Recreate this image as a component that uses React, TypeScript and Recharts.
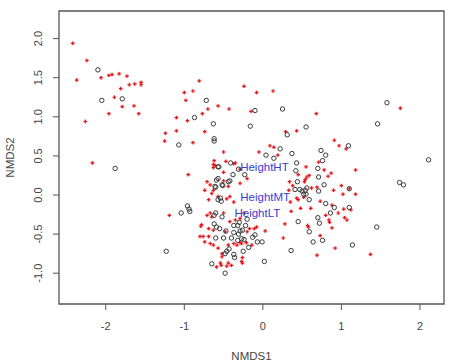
import { ScatterChart, Scatter, XAxis, YAxis, ReferenceArea } from 'recharts';

// NMDS site scores
const blackSites = [
  [-2.10, 1.60], [-2.05, 1.21], [-1.79, 1.23], [-1.88, 0.34], [-1.07, 0.64], [-0.87, 0.99],
  [-0.72, 1.21], [-0.63, 0.91], [-0.62, 0.72], [-0.62, 0.69], [-0.56, 0.36], [-0.41, 0.41],
  [-0.38, 0.26], [-0.10, 1.08], [-0.16, 0.88], [0.25, 1.10], [0.55, 0.87], [1.58, 1.18],
  [1.46, 0.91], [2.11, 0.45], [0.31, 0.77], [1.09, 0.63], [0.74, 0.57], [0.80, 0.51],
  [0.76, 0.44], [0.22, 0.59], [0.37, 0.53], [0.04, 0.51], [0.14, 0.47], [0.43, 0.41],
  [0.70, 0.34], [0.42, 0.31], [0.71, 0.23], [0.44, 0.17], [0.78, 0.13], [1.10, 0.08],
  [0.41, 0.07], [0.47, 0.07], [0.50, 0.05], [0.54, 0.06], [0.56, 0.09], [0.52, 0.01],
  [0.55, 0.01], [0.71, 0.05], [1.74, 0.16], [1.79, 0.13], [1.45, -0.41], [1.14, -0.64],
  [0.76, -0.58], [0.64, -0.60], [0.36, -0.71], [0.02, -0.85], [0.45, -0.34], [0.59, -0.47],
  [0.70, -0.29], [0.72, -0.36], [1.10, -0.16], [0.86, -0.23], [0.91, -0.16], [0.80, -0.11],
  [0.59, -0.06], [-0.01, -0.60], [-0.07, -0.60], [-0.18, -0.67], [-0.25, -0.72], [-0.10, -0.51],
  [-0.13, -0.54], [-0.24, -0.57], [-0.29, -0.46], [-0.26, -0.45], [-0.30, -0.35], [-0.22, -0.39],
  [-0.20, -0.31], [-0.53, -0.08], [-0.57, -0.06], [-0.60, -0.23], [-0.62, -0.26], [-0.52, -0.28],
  [-0.62, -0.37], [-0.59, -0.41], [-0.55, -0.43], [-0.47, -0.46], [-0.37, -0.39], [-0.32, -0.39],
  [-0.43, -0.69], [-0.46, -0.72], [-0.48, -0.75], [-0.37, -0.76], [-0.36, -0.80], [-0.65, -0.88],
  [-0.48, -1.00], [-0.40, -0.55], [-0.32, -0.58], [-0.27, -0.56], [-0.50, -0.55], [-0.60, -0.55],
  [-0.37, -0.48], [-0.31, -0.50], [-1.04, -0.23], [-0.96, -0.14], [-0.94, -0.18], [-0.93, -0.21],
  [-1.23, -0.72], [-0.61, 0.11], [-0.52, 0.13], [-0.44, 0.17], [-0.57, 0.21], [-0.57, 0.36],
  [-0.31, 0.33], [-0.23, 0.26], [-0.59, 0.19], [-0.42, 0.18], [-0.60, 0.10], [-0.51, 0.12],
  [-0.54, -0.04],
];

const redSites = [
  [-2.42, 1.94], [-2.37, 1.47], [-2.24, 1.72], [-2.26, 0.94], [-2.06, 1.50], [-1.96, 1.53],
  [-1.92, 1.54], [-1.83, 1.55], [-1.73, 1.52], [-1.81, 1.36], [-1.70, 1.41], [-1.63, 1.42],
  [-1.55, 1.44], [-1.55, 1.41], [-1.89, 1.25], [-1.79, 1.13], [-1.64, 1.14], [-1.96, 1.04],
  [-1.58, 1.04], [-2.17, 0.41], [-1.24, 0.79], [-1.25, 0.69], [-1.10, 0.82], [-1.10, 0.99],
  [-1.00, 1.31], [-0.89, 1.33], [-0.98, 1.21], [-0.81, 1.46], [-0.96, 0.95], [-0.89, 0.67],
  [-0.77, 1.04], [-0.70, 1.10], [-0.57, 1.14], [-0.74, 0.81], [-0.43, 1.10], [-0.50, 0.55],
  [-0.63, 0.39], [-0.63, 0.35], [-0.47, 0.43], [-0.37, 0.40], [-0.24, 1.39], [-0.08, 1.31],
  [-0.15, 1.07], [0.13, 1.33], [0.68, 1.04], [1.75, 1.11], [0.29, 0.81], [0.43, 0.82],
  [0.91, 0.70], [0.97, 0.63], [1.06, 0.59], [0.71, 0.42], [0.09, 0.63], [0.14, 0.61],
  [0.19, 0.51], [-0.05, 0.55], [0.55, 0.36], [0.78, 0.32], [0.87, 0.28], [1.18, 0.32],
  [0.56, 0.23], [0.59, 0.25], [0.54, 0.20], [0.53, 0.17], [0.45, 0.26], [0.83, 0.24],
  [0.34, 0.17], [0.38, 0.12], [1.00, 0.12], [1.18, 0.01], [1.02, 0.01], [0.62, 0.09],
  [0.69, 0.10], [0.33, 0.06], [0.90, 0.06], [0.52, -0.03], [0.43, -0.04], [1.37, -0.76],
  [0.92, -0.68], [0.69, -0.77], [0.57, -0.39], [0.73, -0.52], [0.85, -0.35], [0.88, -0.42],
  [1.04, -0.29], [1.07, -0.32], [1.12, -0.19], [0.96, -0.23], [0.73, -0.08], [0.88, -0.13],
  [1.10, 0.08], [0.80, -0.26], [0.35, -0.09], [0.48, -0.17], [0.61, -0.17], [0.28, -0.37],
  [0.26, -0.55], [0.03, -0.46], [-0.26, -0.80], [-0.26, -0.87], [-0.21, -0.61], [-0.29, -0.61],
  [-0.17, -0.43], [-0.11, -0.43], [-0.24, -0.23], [1.03, -0.18], [0.36, -0.21], [0.84, -0.32],
  [0.58, -0.41], [0.45, -0.06], [-0.95, 0.26], [-1.19, -0.26], [-0.79, -0.40], [-0.80, -0.53],
  [-0.59, -0.92], [-0.53, -0.90], [-0.46, -0.91], [-0.40, -0.90], [-0.71, 0.17], [-0.67, 0.13],
  [-0.63, 0.06], [-0.69, -0.06], [-0.61, 0.38], [-0.65, -0.28], [-0.46, -0.05], [-0.37, -0.09],
  [-0.67, -0.23], [-0.71, -0.26], [-0.78, -0.38], [-0.50, -0.23], [-0.74, -0.60], [-0.67, -0.62],
  [-0.63, -0.64], [-0.57, -0.68], [-0.52, -0.75], [-0.44, -0.64], [-0.37, -0.62], [-0.33, -0.64],
  [-0.27, -0.62], [-0.52, -0.79], [-0.54, -0.87], [-0.44, -0.87], [-0.27, -0.85], [-0.76, -0.53],
  [-0.69, -0.53], [-0.20, -0.47], [-0.08, -0.41], [-0.42, -0.34], [-0.35, -0.32], [-0.29, -0.30],
  [-0.14, -0.64], [-0.63, -0.45], [-0.69, -0.43], [-0.48, -0.47], [-0.62, 0.44], [-0.35, 0.41],
  [-0.29, 0.33], [-0.50, 0.29], [-0.50, 0.18], [-0.44, 0.11], [-0.29, 0.15], [-0.20, 0.21],
  [-0.74, 0.06], [-0.65, 0.02], [-0.57, -0.02], [-0.42, -0.02],
];

const factorNames = ['HeightHT', 'HeightMT', 'HeightLT'];
const factorX = [0.02, 0.03, -0.07];
const factorY = [0.36, -0.02, -0.23];

const xTicks = [-2, -1, 0, 1, 2];
const yTicks = [-1, -0.5, 0, 0.5, 1, 1.5, 2];
const xDomain: [number, number] = [-2.595, 2.306];
const yDomain: [number, number] = [-1.394, 2.353];

const toPoints = (arr: number[][]) => arr.map(([x, y]) => ({ x, y }));
const factorData = factorNames.map((name, i) => ({ name, x: factorX[i], y: factorY[i] }));

const FONT = '"Liberation Sans", Arial, sans-serif';

const OpenCircle = (props: any) => {
  const { cx, cy } = props;
  return <circle cx={cx} cy={cy} r={2.2} fill="none" stroke="#3a3a3a" strokeWidth={1} />;
};

const RedCross = (props: any) => {
  const { cx, cy } = props;
  return (
    <g>
      <circle cx={cx} cy={cy} r={2.3} fill="#f04848" fillOpacity={0.2} />
      <path d={`M${cx - 1.7},${cy}h3.4M${cx},${cy - 1.7}v3.4`} stroke="#e3141c" strokeWidth={1.2} />
    </g>
  );
};

const FactorLabel = (props: any) => {
  const { cx, cy, payload } = props;
  return (
    <text x={cx} y={cy} textAnchor="middle" dominantBaseline="central" fill="#3b3bd6" fontSize={11.5} fontFamily={FONT}>
      {payload.name}
    </text>
  );
};

const YTick = (props: any) => {
  const { x, y, payload } = props;
  const tx = x - 15;
  return (
    <text x={tx} y={y} transform={`rotate(-90, ${tx}, ${y})`} textAnchor="middle" dominantBaseline="central"
      fill="#444" fontSize={11} fontFamily={FONT}>
      {Number(payload.value).toFixed(1)}
    </text>
  );
};

const YTitle = (props: any) => {
  const vb = props.viewBox || { x: 0, y: 11, width: 59, height: 293 };
  const tx = vb.x + 10;
  const ty = vb.y + vb.height / 2;
  return (
    <text x={tx} y={ty} transform={`rotate(-90, ${tx}, ${ty})`} textAnchor="middle" dominantBaseline="central"
      fill="#444" fontSize={11.5} fontFamily={FONT}>
      NMDS2
    </text>
  );
};

export default function App() {
  return (
    <div style={{ position: 'absolute', left: 0, top: 0, background: '#fff' }}>
      <ScatterChart width={474} height={363} margin={{ top: 11, right: 30, bottom: 0, left: 0 }}>
        <XAxis
          type="number"
          dataKey="x"
          domain={xDomain}
          ticks={xTicks}
          allowDataOverflow
          height={59}
          axisLine={false}
          tickSize={6}
          tickMargin={12}
          tickLine={{ stroke: '#555' }}
          tick={{ fill: '#444', fontSize: 11, fontFamily: FONT }}
          label={{ value: 'NMDS1', position: 'insideBottom', offset: 3, fill: '#444', fontSize: 11.5, fontFamily: FONT }}
        />
        <YAxis
          type="number"
          dataKey="y"
          domain={yDomain}
          ticks={yTicks}
          allowDataOverflow
          width={59}
          axisLine={false}
          tickSize={6}
          tickMargin={0}
          tickLine={{ stroke: '#555' }}
          tick={<YTick />}
          label={{ content: <YTitle /> }}
        />
        <ReferenceArea x1={xDomain[0]} x2={xDomain[1]} y1={yDomain[0]} y2={yDomain[1]}
          fill="none" stroke="#555" strokeWidth={1.3} fillOpacity={0} />
        <Scatter data={toPoints(redSites)} shape={<RedCross />} isAnimationActive={false} />
        <Scatter data={toPoints(blackSites)} shape={<OpenCircle />} isAnimationActive={false} />
        <Scatter data={factorData} shape={<FactorLabel />} isAnimationActive={false} />
      </ScatterChart>
    </div>
  );
}
